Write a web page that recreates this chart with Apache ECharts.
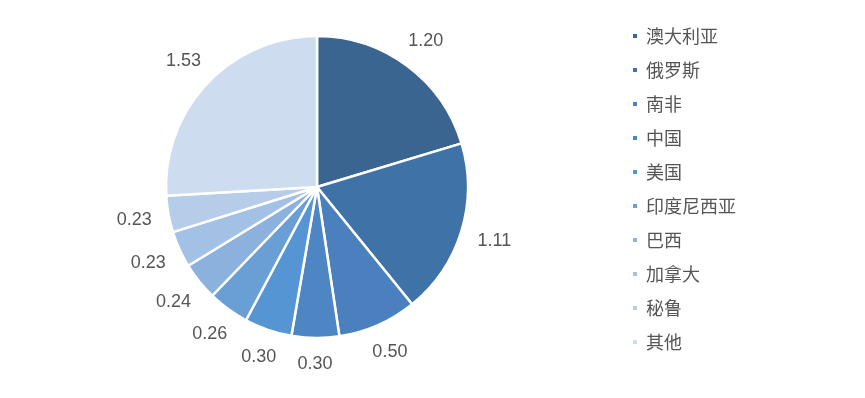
<!DOCTYPE html>
<html>
<head>
<meta charset="utf-8">
<script src="https://cdn.jsdelivr.net/npm/echarts@6/dist/echarts.min.js"></script>
<style>
  html, body { margin: 0; padding: 0; background: #fff; }
  #chart { width: 865px; height: 398px; }
</style>
</head>
<body>
<div id="chart"></div>
<script>
const countries = ['澳大利亚', '俄罗斯', '南非', '中国', '美国', '印度尼西亚', '巴西', '加拿大', '秘鲁', '其他']
const values = [1.20, 1.11, 0.50, 0.30, 0.30, 0.26, 0.24, 0.23, 0.23, 1.53]
const colors = ['#3b6591', '#3f73a8', '#4a80bd', '#4d86c3', '#5595d4', '#6a9fd6', '#8cb1dd', '#a3c0e5', '#b6cdea', '#cddcef']

const myChart = echarts.init(document.getElementById('chart'))

// push each label out along its radius, centred on the text
function placeLabel (params) {
  const pts = params.labelLinePoints
  if (!pts) return {}
  const dx = pts[1][0] - pts[0][0]
  const dy = pts[1][1] - pts[0][1]
  const len = Math.sqrt(dx * dx + dy * dy) || 1
  // a bit less room straight above/below than at the sides
  const out = 26 + 9 * Math.abs(dx / len)
  return {
    x: pts[0][0] + dx / len * out,
    y: pts[0][1] + dy / len * out,
    align: 'center',
    verticalAlign: 'middle'
  }
}

const option = {
  color: colors,
  textStyle: { fontFamily: '"Liberation Sans", "Noto Sans CJK SC", sans-serif' },
  legend: {
    orient: 'vertical',
    left: 626,
    top: 22,
    itemWidth: 6,
    itemHeight: 6,
    itemGap: 16,
    icon: 'rect',
    textStyle: { fontSize: 18, color: '#555', padding: [0, 0, 0, 3], fontFamily: '"Noto Sans CJK SC", sans-serif' },
    data: countries
  },
  series: [{
    type: 'pie',
    center: [317, 187],
    radius: 151,
    startAngle: 90,
    clockwise: true,
    avoidLabelOverlap: false,
    itemStyle: { borderColor: '#fff', borderWidth: 2.5 },
    label: {
      show: true,
      position: 'outside',
      fontSize: 18,
      color: '#555',
      formatter: p => p.value.toFixed(2)
    },
    labelLine: { show: true, length: 20, length2: 0, lineStyle: { opacity: 0 } },
    labelLayout: placeLabel,
    data: countries.map((name, i) => ({ name, value: values[i] }))
  }]
}
myChart.setOption(option, true)
</script>
</body>
</html>
